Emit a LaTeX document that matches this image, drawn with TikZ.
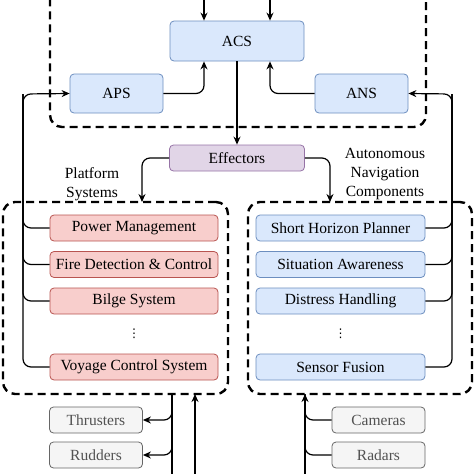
\documentclass[tikz,border=0pt]{standalone}
\usepackage{fontspec}
\setmainfont{Liberation Serif}
\newfontfamily\dotsfont{DejaVu Sans}
\usetikzlibrary{arrows.meta}
\definecolor{acsfill}{HTML}{DAE8FC}
\definecolor{acsline}{HTML}{6C8EBF}
\definecolor{platfill}{HTML}{F8CECC}
\definecolor{platline}{HTML}{B85450}
\definecolor{efffill}{HTML}{E1D5E7}
\definecolor{effline}{HTML}{9673A6}
\definecolor{hwfill}{HTML}{F5F5F5}
\definecolor{hwline}{HTML}{666666}
\tikzset{
  unit/.style={draw, rounded corners=4pt, line width=0.8pt, minimum height=26pt, inner sep=0pt},
  acsunit/.style={unit, fill=acsfill, draw=acsline},
  platunit/.style={unit, fill=platfill, draw=platline, minimum width=168pt},
  navunit/.style={acsunit, minimum width=169pt},
  hwunit/.style={unit, fill=hwfill, draw=hwline, text=hwline!80!black, minimum width=93pt},
  gap/.style={inner sep=0pt, font=\dotsfont\fontsize{12}{12}\selectfont},
  group/.style={draw, dashed, line width=2.4pt, dash pattern=on 8pt off 5pt, rounded corners=12pt, inner sep=0pt},
  link/.style={line width=1.2pt, rounded corners=8pt}
}
\begin{document}
\begin{tikzpicture}[x=1pt, y=-1pt, >={Stealth[length=8pt,width=7pt]}, node distance=36.5pt,
  font=\fontsize{15.5}{19}\selectfont]
      \useasboundingbox (0,0) rectangle (474,474);
      \clip (0,0) rectangle (474,474);

      \node [group, minimum width=376pt, minimum height=160pt] (topgrp) at (238,47) {};
      \node [group, minimum width=225pt, minimum height=192pt] (platgrp) at (115.5,298) {};
      \node [group, minimum width=224pt, minimum height=192pt] (navgrp) at (360,298) {};

      \node [acsunit, minimum width=134pt, minimum height=40pt] (acs) at (237,41) {ACS};
      \node [acsunit, minimum width=93pt, minimum height=39pt] (aps) at (116.5,93.5) {APS};
      \node [acsunit, minimum width=93pt, minimum height=39pt] (ans) at (361.5,93.5) {ANS};
      \node [unit, fill=efffill, draw=effline, minimum width=135pt] (eff) at (237,158) {Effectors};

      \node [align=center] (platlabel) at (92,184) {Platform\\Systems};
      \node [align=center] (navlabel) at (385,174) {Autonomous\\Navigation\\Components};

      \node [platunit] (power) at (134,228) {Power Management};
      \node [platunit, below of=power] (fire) {Fire Detection \& Control};
      \node [platunit, below of=fire] (bilge) {Bilge System};
      \node [gap, below of=bilge, node distance=33pt] (platdots) {⋮};
      \node [platunit, below of=platdots, node distance=33pt] (voyage) {Voyage Control System};

      \node [navunit] (planner) at (340.5,228) {Short Horizon Planner};
      \node [navunit, below of=planner] (aware) {Situation Awareness};
      \node [navunit, below of=aware] (distress) {Distress Handling};
      \node [gap, below of=distress, node distance=33pt] (navdots) {⋮};
      \node [navunit, below of=navdots, node distance=33pt] (fusion) {Sensor Fusion};

      \node [hwunit] (thrusters) at (96,420) {Thrusters};
      \node [hwunit, below of=thrusters, node distance=35pt] (rudders) {Rudders};
      \node [hwunit] (cameras) at (378.5,420) {Cameras};
      \node [hwunit, below of=cameras, node distance=35pt] (radars) {Radars};

      \coordinate (topin1) at (204,-10);
      \coordinate (topin2) at (270,-10);
      \coordinate (lbus) at (23,94);
      \coordinate (rbus) at (452,94);
      \coordinate (platin) at (142,202);
      \coordinate (navin) at (330,202);
      \coordinate (platout) at (172,394);
      \coordinate (platoutend) at (172,480);
      \coordinate (platback) at (195,480);
      \coordinate (platbackin) at (195,394);
      \coordinate (sensend) at (305,480);
      \coordinate (sensin) at (305,394);

      \draw[link,->] (topin1) -- (acs.north -| topin1);
      \draw[link,->] (topin2) -- (acs.north -| topin2);
      \draw[link,->] (aps.east) -| ([xshift=-33pt]acs.south);
      \draw[link,->] (ans.west) -| ([xshift=33pt]acs.south);
      \draw[link,->] (acs.south) -- (eff.north);
      \draw[link,->] (eff.west) -| (platin);
      \draw[link,->] (eff.east) -| (navin);

      \draw[link,->] (voyage.west) -| (lbus) -- (aps.west);
      \foreach \b in {power,fire,bilge}
        \draw[link] (\b.west) -| (lbus);
      \draw[link,->] (fusion.east) -| (rbus) -- (ans.east);
      \foreach \b in {planner,aware,distress}
        \draw[link] (\b.east) -| (rbus);

      \draw[link] (platout) -- (platoutend);
      \draw[link,->] (platout) |- (thrusters.east);
      \draw[link,->] (platout) |- (rudders.east);
      \draw[link,->] (platback) -- (platbackin);
      \draw[link,->] (sensend) -- (sensin);
      \draw[link] (cameras.west) -| (sensin);
      \draw[link] (radars.west) -| (sensin);
    \end{tikzpicture}
\end{document}
